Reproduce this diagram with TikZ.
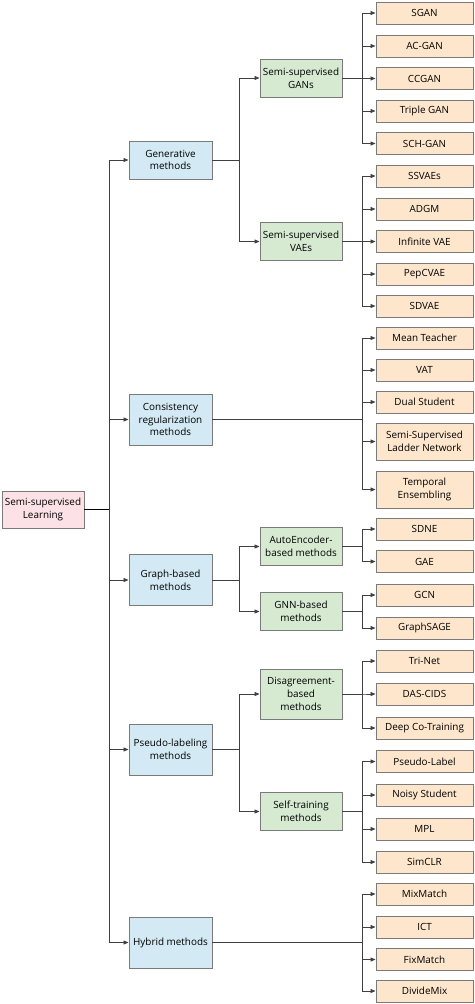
\documentclass[tikz,border=0pt]{standalone}
\usepackage{fontspec}
\setmainfont{Open Sans}
\usetikzlibrary{arrows.meta}
\definecolor{rootfill}{HTML}{FCE1E6}
\definecolor{catfill}{HTML}{D3EAF4}
\definecolor{subfill}{HTML}{D6EAD2}
\definecolor{leaffill}{HTML}{FDE6CC}
\definecolor{boxgray}{HTML}{7A7A7A}
\definecolor{linegray}{HTML}{404040}
\tikzset{
    box/.style={
        draw=boxgray,
        line width=0.9pt,
        align=center,
        inner sep=1pt,
        font=\fontsize{9.9}{12.7}\selectfont
    },
    rootbox/.style={box, fill=rootfill, minimum width=82pt, minimum height=37pt},
    catbox/.style={box, fill=catfill, minimum width=83pt, minimum height=51pt},
    subbox/.style={box, fill=subfill, minimum width=82pt, minimum height=38pt},
    leafbox/.style={box, fill=leaffill, minimum width=97pt, minimum height=22pt},
    link/.style={draw=linegray, line width=0.8pt},
    arrow/.style={link, -{Triangle[length=5pt, width=4pt]}}
}

\begin{document}
\begin{tikzpicture}[x=1pt, y=-1pt]
  \useasboundingbox (0,0) rectangle (474,1004);

  % Root
  \node[rootbox] (root) at (43,509.5) {Semi-supervised\\Learning};

  % Categories
  \node[catbox, minimum height=38pt] (gen) at (170.5,160) {Generative\\methods};
  \node[catbox] (cons) at (170.5,419.5) {Consistency\\regularization\\methods};
  \node[catbox] (graph) at (170.5,580) {Graph-based\\methods};
  \node[catbox] (pseudo) at (170.5,749.5) {Pseudo-labeling\\methods};
  \node[catbox] (hybrid) at (170.5,942.5) {Hybrid methods};

  % Sub-categories
  \node[subbox] (sgans) at (301,78) {Semi-supervised\\GANs};
  \node[subbox] (svaes) at (301,241.5) {Semi-supervised\\VAEs};
  \node[subbox] (ae) at (301,546.5) {AutoEncoder-\\based methods};
  \node[subbox] (gnn) at (301,611.5) {GNN-based\\methods};
  \node[subbox, minimum height=50pt] (dis) at (301,694) {Disagreement-\\based\\methods};
  \node[subbox] (self) at (301,811.5) {Self-training\\methods};

  % Methods: GANs
  \node[leafbox] (sgan) at (424.5,13) {SGAN};
  \node[leafbox] (acgan) at (424.5,46) {AC-GAN};
  \node[leafbox] (ccgan) at (424.5,78.5) {CCGAN};
  \node[leafbox] (tgan) at (424.5,111) {Triple GAN};
  \node[leafbox] (schgan) at (424.5,143.5) {SCH-GAN};

  % Methods: VAEs
  \node[leafbox] (ssvae) at (424.5,176) {SSVAEs};
  \node[leafbox] (adgm) at (424.5,209) {ADGM};
  \node[leafbox] (ivae) at (424.5,241.5) {Infinite VAE};
  \node[leafbox] (pepc) at (424.5,274) {PepCVAE};
  \node[leafbox] (sdvae) at (424.5,306) {SDVAE};

  % Methods: consistency
  \node[leafbox] (mt) at (424.5,338) {Mean Teacher};
  \node[leafbox] (vat) at (424.5,370) {VAT};
  \node[leafbox] (dual) at (424.5,402) {Dual Student};
  \node[leafbox, minimum height=37pt] (ladder) at (424.5,441.5) {Semi-Supervised\\Ladder Network};
  \node[leafbox, minimum height=37pt] (temp) at (424.5,489.5) {Temporal\\Ensembling};

  % Methods: graph
  \node[leafbox] (sdne) at (424.5,529) {SDNE};
  \node[leafbox] (gae) at (424.5,561.5) {GAE};
  \node[leafbox] (gcn) at (424.5,595) {GCN};
  \node[leafbox] (gsage) at (424.5,628) {GraphSAGE};

  % Methods: pseudo-labeling
  \node[leafbox] (trinet) at (424.5,661) {Tri-Net};
  \node[leafbox] (dascids) at (424.5,694) {DAS-CIDS};
  \node[leafbox] (dct) at (424.5,728) {Deep Co-Training};
  \node[leafbox] (plabel) at (424.5,761.5) {Pseudo-Label};
  \node[leafbox] (noisy) at (424.5,795) {Noisy Student};
  \node[leafbox] (mpl) at (424.5,829) {MPL};
  \node[leafbox] (simclr) at (424.5,862) {SimCLR};

  % Methods: hybrid
  \node[leafbox] (mixm) at (424.5,894) {MixMatch};
  \node[leafbox] (ict) at (424.5,927) {ICT};
  \node[leafbox] (fixm) at (424.5,959.5) {FixMatch};
  \node[leafbox] (divm) at (424.5,991) {DivideMix};

  % Root to categories
  \coordinate (trunk) at (109,509.5);
  \draw[line width=1.3pt] (root.east) -- (trunk);
  \foreach \c in {gen,cons,graph,pseudo,hybrid}
    \draw[arrow] (trunk) |- (\c.west);

  % Categories to sub-categories
  \foreach \s in {sgans,svaes}
    \draw[arrow] (gen.east) -- ++(27,0) |- (\s.west);
  \foreach \s in {ae,gnn}
    \draw[arrow] (graph.east) -- ++(27,0) |- (\s.west);
  \foreach \s in {dis,self}
    \draw[arrow] (pseudo.east) -- ++(27,0) |- (\s.west);

  % Straight to methods
  \foreach \l in {mt,vat,dual,ladder,temp}
    \draw[arrow] (cons.east) -- ++(150,0) |- (\l.west);
  \foreach \l in {mixm,ict,fixm,divm}
    \draw[arrow] (hybrid.east) -- ++(150,0) |- (\l.west);

  % Sub-categories to methods
  \foreach \l in {sgan,acgan,ccgan,tgan,schgan}
    \draw[arrow] (sgans.east) -- ++(20,0) |- (\l.west);
  \foreach \l in {ssvae,adgm,ivae,pepc,sdvae}
    \draw[arrow] (svaes.east) -- ++(20,0) |- (\l.west);
  \foreach \l in {sdne,gae}
    \draw[arrow] (ae.east) -- ++(20,0) |- (\l.west);
  \foreach \l in {gcn,gsage}
    \draw[arrow] (gnn.east) -- ++(20,0) |- (\l.west);
  \foreach \l in {trinet,dascids,dct}
    \draw[arrow] (dis.east) -- ++(20,0) |- (\l.west);
  \foreach \l in {plabel,noisy,mpl,simclr}
    \draw[arrow] (self.east) -- ++(20,0) |- (\l.west);
\end{tikzpicture}
\end{document}
